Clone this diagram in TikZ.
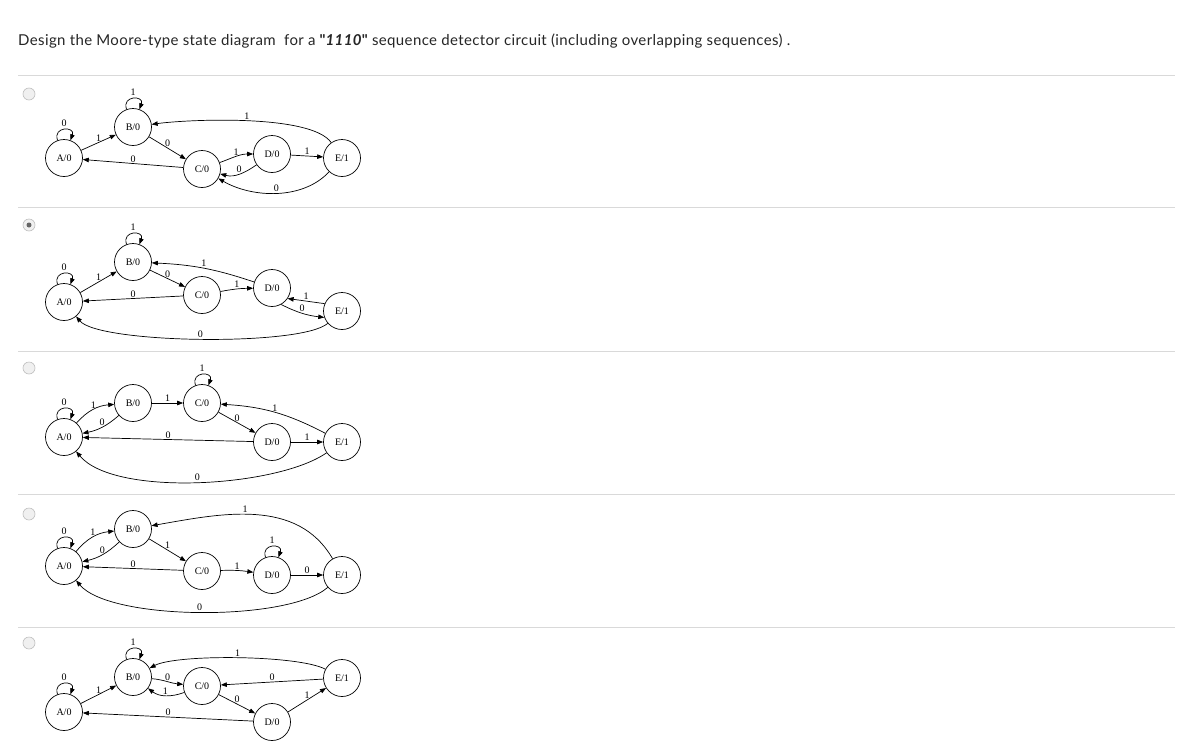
\documentclass[tikz,border=0pt]{standalone}
\usepackage{fontspec}
\setmainfont{Lato}
\newfontfamily\qfont{Lato}[LetterSpace=2.5]
\newfontfamily\dotfont{Liberation Serif}
\usetikzlibrary{arrows.meta}

\begin{document}
\begin{tikzpicture}[x=1pt,y=1pt,
		state/.style={draw,circle,line width=0.7pt,minimum size=37pt,inner sep=0pt,font=\dotfont\fontsize{10}{12}\selectfont},
		lbl/.style={font=\dotfont\fontsize{10}{12}\selectfont,inner sep=1pt},
		arr/.style={-{Triangle[length=6pt,width=4.5pt]},line width=0.7pt},
		selfloop/.style={out=110,in=70,looseness=1,min distance=15pt},
		sep/.style={gray!30,line width=1pt},
		radio/.style={draw=gray!50,fill=gray!12,line width=0.6pt}]
		\fill[white] (0,0) rectangle (1177,-747);
		\useasboundingbox (0,0) rectangle (1177,-747);

		% Question
		\node[anchor=base west,inner sep=0pt,text=black!85,font=\qfont\fontsize{15}{17}\selectfont] (title) at (18,-45)
			{Design the Moore-type state diagram\ \ for a {\bfseries\char"22\textit{1110}\char"22} sequence detector circuit (including overlapping sequences) .};
		\foreach \y in {75,207,351,494,627}
			\draw[sep] (18,-\y) -- (1175,-\y);
		\foreach \y in {94,225,368,514,643}
			\draw[radio] (29,-\y) circle (6);
		\fill[black!60] (29,-225) circle (2.5);

		% Option 1
		\node[state] (A1) at (64,-158) {A/0};
		\node[state] (B1) at (133,-127) {B/0};
		\node[state] (C1) at (202,-169) {C/0};
		\node[state] (D1) at (272,-154) {D/0};
		\node[state] (E1) at (342,-158) {E/1};
		\draw[arr] (A1) to[selfloop] node[lbl,above=2pt] {0} (A1);
		\draw[arr] (A1) -- node[lbl,above] {1} (B1);
		\draw[arr] (B1) to[selfloop] node[lbl,above=2pt] {1} (B1);
		\draw[arr] (B1) -- node[lbl,above] {0} (C1);
		\draw[arr] (C1) -- node[lbl,above] {0} (A1);
		\draw[arr] (C1) to[out=20,in=180] node[lbl,above] {1} (D1);
		\draw[arr] (D1) to[out=215,in=-15] node[lbl,above] {0} (C1);
		\draw[arr] (D1) -- node[lbl,above] {1} (E1);
		\draw[arr] (E1) to[out=125,in=8,looseness=0.5] node[lbl,above] {1} (B1);
		\draw[arr] (E1) to[out=227,in=-30,looseness=0.9] node[lbl,above] {0} (C1);

		% Option 2
		\node[state] (A2) at (64,-302) {A/0};
		\node[state] (B2) at (133,-262) {B/0};
		\node[state] (C2) at (202,-295) {C/0};
		\node[state] (D2) at (272,-288) {D/0};
		\node[state] (E2) at (342,-311) {E/1};
		\draw[arr] (A2) to[selfloop] node[lbl,above=2pt] {0} (A2);
		\draw[arr] (A2) -- node[lbl,above] {1} (B2);
		\draw[arr] (B2) to[selfloop] node[lbl,above=2pt] {1} (B2);
		\draw[arr] (B2) -- node[lbl,above] {0} (C2);
		\draw[arr] (C2) -- node[lbl,above] {0} (A2);
		\draw[arr] (C2) to[bend left=5] node[lbl,above] {1} (D2);
		\draw[arr] (D2) to[bend right=8] node[lbl,above] {1} (B2);
		\draw[arr] (E2.157) -- node[lbl,above] {1} (D2.-34);
		\draw[arr] (D2.-61) to[bend right=10] node[lbl,above] {0} (E2.200);
		\draw[arr] (E2) to[out=221,in=-50,looseness=0.36] node[lbl,above] {0} (A2);

		% Option 3
		\node[state] (A3) at (64,-437) {A/0};
		\node[state] (B3) at (133,-403) {B/0};
		\node[state] (C3) at (202,-403) {C/0};
		\node[state] (D3) at (272,-442) {D/0};
		\node[state] (E3) at (342,-442) {E/1};
		\draw[arr] (A3) to[selfloop] node[lbl,above=2pt] {0} (A3);
		\draw[arr] (A3) to[bend left=22] node[lbl,above] {1} (B3);
		\draw[arr] (B3) to[bend left=15] node[lbl,above] {0} (A3);
		\draw[arr] (B3) -- node[lbl,above] {1} (C3);
		\draw[arr] (C3) to[selfloop] node[lbl,above=2pt] {1} (C3);
		\draw[arr] (C3) -- node[lbl,above] {0} (D3);
		\draw[arr] (D3) -- node[lbl,above] {0} (A3);
		\draw[arr] (D3) -- node[lbl,above] {1} (E3);
		\draw[arr] (E3) to[bend right=12] node[lbl,above] {1} (C3);
		\draw[arr] (E3) to[out=215,in=-50,looseness=0.61] node[lbl,above] {0} (A3);

		% Option 4
		\node[state] (A4) at (64,-566) {A/0};
		\node[state] (B4) at (133,-529) {B/0};
		\node[state] (C4) at (202,-571) {C/0};
		\node[state] (D4) at (272,-575) {D/0};
		\node[state] (E4) at (342,-575) {E/1};
		\draw[arr] (A4) to[selfloop] node[lbl,above=2pt] {0} (A4);
		\draw[arr] (A4) to[bend left=22] node[lbl,above] {1} (B4);
		\draw[arr] (B4) to[bend left=15] node[lbl,above] {0} (A4);
		\draw[arr] (B4) -- node[lbl,above] {1} (C4);
		\draw[arr] (C4) -- node[lbl,above] {0} (A4);
		\draw[arr] (C4) to[bend left=5] node[lbl,above] {1} (D4);
		\draw[arr] (D4) to[selfloop] node[lbl,above=2pt] {1} (D4);
		\draw[arr] (D4) -- node[lbl,above] {0} (E4);
		\draw[arr] (E4) to[out=120,in=10,looseness=0.98] node[lbl,above,pos=0.55] {1} (B4);
		\draw[arr] (E4) to[out=221,in=-50,looseness=0.535] node[lbl,above] {0} (A4);

		% Option 5
		\node[state] (A5) at (64,-712) {A/0};
		\node[state] (B5) at (133,-677) {B/0};
		\node[state] (C5) at (202,-686) {C/0};
		\node[state] (D5) at (272,-722) {D/0};
		\node[state] (E5) at (342,-678) {E/1};
		\draw[arr] (A5) to[selfloop] node[lbl,above=2pt] {0} (A5);
		\draw[arr] (A5) -- node[lbl,above] {1} (B5);
		\draw[arr] (B5) to[selfloop] node[lbl,above=2pt] {1} (B5);
		\draw[arr] (B5) to[out=-5,in=175] node[lbl,above] {0} (C5);
		\draw[arr] (C5) to[out=200,in=-37] node[lbl,above] {1} (B5);
		\draw[arr] (C5) -- node[lbl,above] {0} (D5);
		\draw[arr] (D5) -- node[lbl,above] {0} (A5);
		\draw[arr] (D5) -- node[lbl,above] {1} (E5);
		\draw[arr] (E5) -- node[lbl,above] {0} (C5);
		\draw[arr] (E5) to[out=152,in=28,looseness=0.44] node[lbl,above] {1} (B5);
	\end{tikzpicture}
\end{document}
